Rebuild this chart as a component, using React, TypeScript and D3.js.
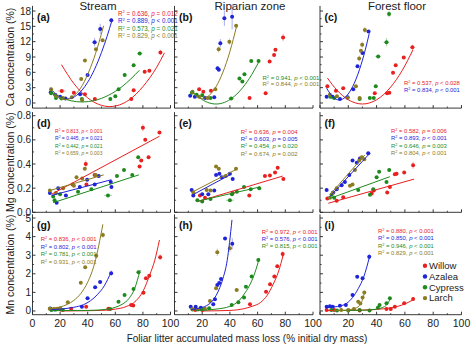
import React from "react";
import * as d3 from "d3";

// ---- data ----
const species = ["Willow", "Azalea", "Cypress", "Larch"];
const colors = ["#e8201f", "#1f24d8", "#1e8a1e", "#8c7c22"];

const colTitles = ["Stream", "Riparian zone", "Forest floor"];
const rowLabels = ["Ca concentration (%)", "Mg concentration (%)", "Mn concentration (%)"];
const letters = ["(a)", "(b)", "(c)", "(d)", "(e)", "(f)", "(g)", "(h)", "(i)"];

const xMajor = [0, 20, 40, 60, 80, 100];
const xMinor = [10, 30, 50, 70, 90];
const caTicks = [0, 3, 6, 9, 12, 15, 18];
const mgTicks = [0, 0.2, 0.4, 0.6, 0.8];
const mnTicks = [0, 1, 2, 3, 4, 5];

// points: [species, x, y, xerr, yerr]
type Pt = number[];
type Fit = [number, number[][]];
type Stat = [number, string, string];

const ptsA: Pt[] = [
  [0, 21.2, 2.35, 3, 0], [0, 30, 2.0], [0, 38, 1.7], [0, 45.2, 0.8], [0, 71.6, 0.8], [0, 73.3, 2.5], [0, 81.3, 6.1], [0, 84.7, 6.3], [0, 92.7, 9.9, 0, 0.5],
  [1, 13.2, 2.1], [1, 16.4, 1.6], [1, 20, 1.2], [1, 23.9, 0.9], [1, 34.5, 1.7, 2, 0], [1, 39.9, 5.5], [1, 45, 11.9, 2, 0.8], [1, 49.1, 14.5, 1, 1], [1, 57.1, 16.2, 0, 0.4],
  [2, 13.5, 1.9], [2, 17, 1.0], [2, 21, 0.9], [2, 35.8, 0.8], [2, 56.4, 0.8], [2, 60, 1.3], [2, 62.4, 2.7], [2, 66.8, 5.5], [2, 73.3, 7.4], [2, 77.7, 9.7, 2, 0],
  [3, 13.5, 2.7], [3, 17, 1.4], [3, 22, 1.0], [3, 28.5, 1.1], [3, 35.3, 4.7], [3, 38, 8.3], [3, 46, 10.5], [3, 50.8, 12.3], [3, 36, 0.6],
];
const fitA: Fit[] = [
  [0, [[21, 7.5], [30, 3.8], [40, 1.0], [56, -0.7], [70, 0.6], [80, 3.2], [90, 7.0], [95.6, 9.8]]],
  [1, [[13, 2.9], [18, 1.5], [25, 0.8], [32, 1.5], [40, 4.06], [45, 6.6], [50, 9.9], [54, 13.0], [57.6, 16.2]]],
  [2, [[13, 2.1], [20, 1.12], [28, 0.43], [36, 0.2], [45, 0.49], [55, 1.5], [65, 3.23], [77.5, 6.4]]],
  [3, [[13, 3.0], [18, 1.4], [24, 0.7], [30, 1.4], [36, 3.4], [42, 6.9], [47, 10.8], [51.5, 15.1]]],
];
const statA: Stat[] = [[0, "0.636", "= 0.012"], [1, "0.889", "< 0.001"], [2, "0.573", "= 0.021"], [3, "0.829", "< 0.001"]];

const ptsB: Pt[] = [
  [0, 17.8, 2.7], [0, 20.8, 2.2], [0, 26.3, 2.4], [0, 54.2, 1.0], [0, 65.8, 1.9], [0, 68.7, 8.1], [0, 71.9, 9.4, 0, 0.4], [0, 72.9, 10.4], [0, 78.4, 12.8, 0, 0.7],
  [1, 11.3, 1.4], [1, 14.7, 1.2], [1, 22, 1.0], [1, 28.7, 1.1], [1, 31.1, 6.8], [1, 32, 6.5], [1, 33.1, 11.7, 0, 0.8], [1, 36, 16.6, 0, 1.5], [1, 41.6, 16.9, 0, 2.5],
  [2, 12.5, 2.0], [2, 16, 1.6], [2, 20, 1.5], [2, 26, 1.0], [2, 40.9, 0.9, 2, 0], [2, 46.9, 4.8], [2, 49, 4.2], [2, 50.5, 5.6], [2, 55.4, 8.2], [2, 60.7, 8.2],
  [3, 13, 2.2], [3, 17.8, 1.2], [3, 24, 1.0], [3, 29.5, 2.7], [3, 31.9, 10.5, 0, 0.6], [3, 39.6, 12.0, 0, 0.6], [3, 44.5, 15.1],
];
const fitB: Fit[] = [
  [2, [[12.6, 2.4], [18, 1.04], [24, 0.11], [30, -0.2], [36, 0.11], [42, 1.04], [48, 2.6], [54, 4.78], [61, 8.1]]],
  [3, [[12.6, 2.15], [16, 1.27], [20, 0.9], [25, 1.47], [30, 3.19], [35, 6.05], [40, 10.06], [44.8, 15.0]]],
];
const statB: Stat[] = [[2, "0.941", "< 0.001"], [3, "0.844", "< 0.001"]];

const ptsC: Pt[] = [
  [0, 5.2, 3.3], [0, 11.3, 2.4], [0, 16.4, 2.9], [0, 38.7, 1.9], [0, 47.4, 1.9], [0, 49, 2.0], [0, 51.6, 5.9], [0, 53.5, 7.4], [0, 59.2, 8.9], [0, 65.3, 10.9, 1.5, 0.5],
  [1, 4.7, 1.2], [1, 8.9, 1.2], [1, 14.1, 0.8], [1, 19.5, 1.1], [1, 23.5, 2.7], [1, 26.5, 7.2], [1, 30, 9.8], [1, 34.3, 14.0],
  [2, 7.3, 1.2], [2, 10, 1.0], [2, 28, 0.8], [2, 35.2, 1.0], [2, 38, 1.0], [2, 39.4, 3.3], [2, 41.1, 9.1, 2, 0], [2, 47, 11.9, 2, 0.8], [2, 48.8, 17.4, 0, 0.6],
  [3, 7, 1.6], [3, 12, 1.3], [3, 19.5, 1.0], [3, 28, 1.0], [3, 25.4, 3.3], [3, 27.7, 8.7, 0, 0.6], [3, 28.9, 10.2], [3, 29.8, 11.4, 0, 0.6], [3, 31.7, 14.3, 0, 0.6],
];
const fitC: Fit[] = [
  [0, [[5.2, 4.9], [12, 2.5], [20, 0.63], [30, -0.2], [40, 0.63], [50, 3.13], [58, 6.32], [65.7, 10.4]]],
  [1, [[4.7, 2.9], [9, 1.21], [13.6, 0.6], [18, 1.16], [23, 3.16], [28, 6.61], [32, 10.4], [34.8, 13.6]]],
];
const statC: Stat[] = [[0, "0.537", "< 0.028"], [1, "0.834", "< 0.001"]];

const ptsD: Pt[] = [
  [0, 80, 0.70, 0, 0.03], [0, 81.7, 0.60], [0, 84.1, 0.455], [0, 92, 0.66], [0, 77.6, 0.38], [0, 78.8, 0.43], [0, 38.6, 0.40, 0, 0.03], [0, 39.1, 0.23], [0, 29, 0.23], [0, 45, 0.31],
  [1, 12.6, 0.16], [1, 17.5, 0.08], [1, 18.6, 0.20], [1, 24.2, 0.14], [1, 34.3, 0.21], [1, 39.6, 0.27], [1, 48, 0.30], [1, 45.1, 0.23], [1, 57.2, 0.21], [1, 56.7, 0.25],
  [2, 15, 0.13], [2, 16, 0.10], [2, 20, 0.15], [2, 33, 0.17], [2, 42.7, 0.19], [2, 54.7, 0.14, 3, 0], [2, 61.2, 0.30], [2, 66.3, 0.35], [2, 72.3, 0.31], [2, 76.6, 0.455],
  [3, 12.6, 0.18], [3, 17, 0.16], [3, 22.2, 0.20], [3, 31.9, 0.29], [3, 36, 0.28], [3, 37.9, 0.36], [3, 45.8, 0.31], [3, 30, 0.22],
];
const fitD: Fit[] = [
  [0, [[13.9, 0.15], [92, 0.63]]],
  [1, [[13.9, 0.14], [57.2, 0.27]]],
  [2, [[15, 0.08], [77.1, 0.31]]],
  [3, [[13.9, 0.185], [51.6, 0.31]]],
];
const statD: Stat[] = [[0, "0.813", "< 0.001"], [1, "0.445", "= 0.021"], [2, "0.442", "= 0.021"], [3, "0.659", "= 0.003"]];

const ptsE: Pt[] = [
  [0, 18.4, 0.14], [0, 22, 0.12], [0, 42, 0.16], [0, 54, 0.14], [0, 65.3, 0.30], [0, 68.9, 0.305], [0, 72.6, 0.33], [0, 74.5, 0.37], [0, 78.6, 0.275],
  [1, 12.4, 0.185], [1, 13.6, 0.14], [1, 20, 0.15], [1, 24.4, 0.15], [1, 28.7, 0.18], [1, 30, 0.31], [1, 32.4, 0.32], [1, 34.1, 0.29], [1, 40, 0.32], [1, 42, 0.275],
  [2, 16.5, 0.10], [2, 20, 0.09], [2, 26, 0.11], [2, 40, 0.10, 3, 0], [2, 41.5, 0.15], [2, 45, 0.17], [2, 50.2, 0.21], [2, 55, 0.19], [2, 61.2, 0.20],
  [3, 13.6, 0.165], [3, 23.2, 0.185], [3, 26, 0.18], [3, 30, 0.38], [3, 32, 0.36], [3, 37, 0.30], [3, 44.4, 0.36],
];
const fitE: Fit[] = [
  [0, [[17.2, 0.09], [78.1, 0.30]]],
  [1, [[12.4, 0.14], [40, 0.31]]],
  [2, [[16, 0.09], [61.7, 0.21]]],
  [3, [[12.4, 0.165], [45.3, 0.36]]],
];
const statE: Stat[] = [[0, "0.636", "= 0.004"], [1, "0.603", "= 0.005"], [2, "0.454", "= 0.020"], [3, "0.674", "= 0.002"]];

const ptsF: Pt[] = [
  [0, 5.2, 0.115], [0, 11.8, 0.095], [0, 16.4, 0.125], [0, 36.5, 0.155], [0, 38, 0.18], [0, 47.5, 0.165], [0, 49.4, 0.21], [0, 52.9, 0.315], [0, 54.1, 0.32], [0, 59.5, 0.33], [0, 65.8, 0.39, 0, 0.03],
  [1, 4.7, 0.185], [1, 9.4, 0.165], [1, 11.8, 0.19], [1, 15.3, 0.225], [1, 17.6, 0.25], [1, 20.7, 0.31], [1, 23, 0.43], [1, 26, 0.41], [1, 28.2, 0.445], [1, 34.1, 0.49, 1.5, 0],
  [2, 8.2, 0.145], [2, 10, 0.12], [2, 27, 0.185], [2, 35.3, 0.145], [2, 37.6, 0.19], [2, 40, 0.29, 1.5, 0], [2, 41.8, 0.335], [2, 47, 0.25], [2, 48.9, 0.35],
  [3, 7, 0.12], [3, 9, 0.16], [3, 11.8, 0.20], [3, 21.2, 0.22], [3, 23, 0.23], [3, 24.7, 0.35], [3, 27.7, 0.43], [3, 29.5, 0.455], [3, 31.3, 0.44],
];
const fitF: Fit[] = [
  [0, [[5.9, 0.075], [66.5, 0.275]]],
  [1, [[7, 0.13], [35.3, 0.49]]],
  [2, [[7, 0.115], [49.4, 0.295]]],
  [3, [[7, 0.145], [31.7, 0.475]]],
];
const statF: Stat[] = [[0, "0.582", "= 0.006"], [1, "0.893", "< 0.001"], [2, "0.646", "= 0.003"], [3, "0.804", "< 0.001"]];

const ptsG: Pt[] = [
  [0, 20, 0.1], [0, 28, 0.12], [0, 38.9, 0.23], [0, 55, 0.12], [0, 71.5, 0.32], [0, 73, 0.3], [0, 80.4, 0.98], [0, 82.2, 1.76], [0, 84.6, 1.9], [0, 92.5, 2.89, 0, 0.15],
  [1, 12.8, 0.14], [1, 16, 0.08], [1, 20, 0.1], [1, 35.8, 0.23], [1, 39.9, 0.68, 1.5, 0], [1, 45.4, 1.27, 1.5, 0], [1, 49, 1.56, 1.5, 0], [1, 57, 2.03, 0, 0.15],
  [2, 13.7, 0.05], [2, 17, 0.08], [2, 22, 0.05], [2, 56.3, 0.1], [2, 62.3, 0.5], [2, 66.7, 0.86], [2, 73.2, 1.18], [2, 76.8, 2.08, 1.5, 0],
  [3, 12.5, 0.12], [3, 15.3, 0.1], [3, 18, 0.12], [3, 20, 0.15], [3, 25.6, 0.47], [3, 35, 1.52], [3, 38.2, 2.35], [3, 46.2, 2.97, 0, 0.15], [3, 51, 4.09, 0, 0.15],
];
const fitG: Fit[] = [
  [0, [[20, 0.0], [50, 0.03], [60, 0.1], [68, 0.24], [75, 0.55], [80, 1.05], [85, 1.95], [88.5, 2.7], [92, 3.82]]],
  [1, [[13, 0.07], [20, 0.1], [30, 0.2], [37, 0.34], [42, 0.55], [47, 0.88], [52, 1.35], [57, 2.1]]],
  [2, [[13, 0.02], [40, 0.03], [55, 0.1], [60, 0.2], [65, 0.36], [70, 0.68], [74, 1.2], [78, 2.2]]],
  [3, [[13, 0.1], [20, 0.21], [25, 0.35], [30, 0.57], [35, 0.94], [40, 1.55], [45, 2.56], [51, 4.66]]],
];
const statG: Stat[] = [[0, "0.836", "< 0.001"], [1, "0.802", "< 0.001"], [2, "0.781", "< 0.001"], [3, "0.931", "< 0.001"]];

const ptsH: Pt[] = [
  [0, 15, 0.05], [0, 20, 0.05], [0, 54.5, 0.36], [0, 66.1, 1.04], [0, 69, 1.44], [0, 72.1, 1.85], [0, 74.2, 2.4], [0, 78.1, 3.06, 0, 0.15],
  [1, 11.7, 0.23], [1, 15.3, 0.23], [1, 19, 0.18], [1, 28, 0.36], [1, 29.2, 0.63], [1, 30.9, 1.4], [1, 32.3, 1.5], [1, 33.6, 1.72], [1, 36.5, 3.9], [1, 41.7, 3.62, 0, 0.3],
  [2, 13, 0.08], [2, 20, 0.1], [2, 25, 0.15], [2, 41.3, 0.32], [2, 46.1, 0.47], [2, 50.2, 0.72], [2, 51.6, 1.31], [2, 55.7, 1.85], [2, 60.5, 2.74],
  [3, 13, 0.1], [3, 17, 0.08], [3, 22, 0.12], [3, 25.6, 0.54], [3, 30, 1.22], [3, 30.9, 3.16, 0, 0.2], [3, 40, 3.37, 0, 0.2], [3, 44.9, 1.13, 1.5, 0],
];
const fitH: Fit[] = [
  [0, [[20, 0.0], [40, 0.03], [50, 0.12], [56, 0.25], [62, 0.45], [67, 0.85], [71, 1.4], [75, 2.1], [78.6, 3.05]]],
  [1, [[12, 0.07], [18, 0.15], [23, 0.28], [28, 0.6], [32, 1.13], [35, 1.75], [38, 2.7], [41.5, 4.9]]],
  [2, [[15, 0.02], [30, 0.1], [40, 0.25], [47, 0.59], [51, 0.98], [55, 1.5], [58, 2.05], [61.2, 2.83]]],
];
const statH: Stat[] = [[0, "0.972", "< 0.001"], [1, "0.576", "< 0.001"], [2, "0.815", "< 0.001"]];

const ptsI: Pt[] = [
  [0, 4.7, 0.05], [0, 10, 0.05], [0, 28, 0.03], [0, 47, 0.1], [0, 50, 0.1], [0, 52.9, 0.23], [0, 59.5, 0.41], [0, 65.8, 0.65],
  [1, 4.7, 0.23], [1, 7, 0.25], [1, 9, 0.23], [1, 14.1, 0.28], [1, 18.3, 0.32], [1, 23, 0.86], [1, 26.3, 1.84], [1, 30.1, 1.76], [1, 34.8, 2.92, 0, 0.15],
  [2, 8, 0.05], [2, 12, 0.02], [2, 20, 0.03], [2, 28, 0.05], [2, 35, 0.02], [2, 40.9, 0.18], [2, 42.1, 0.32], [2, 47, 0.41], [2, 49.4, 0.68],
  [3, 15, 0.05], [3, 20, 0.05], [3, 24, 0.1], [3, 27, 0.5], [3, 28.5, 0.4], [3, 30.1, 0.72], [3, 31.3, 1.0],
];
const fitI: Fit[] = [
  [0, [[4.7, 0.02], [20, 0.03], [35, 0.06], [45, 0.12], [55, 0.25], [60, 0.38], [65.8, 0.6]]],
  [1, [[4.7, 0.2], [10, 0.22], [15, 0.28], [19, 0.42], [23, 0.72], [27, 1.2], [31, 1.85], [34.8, 2.86]]],
  [2, [[10, 0.02], [30, 0.04], [40, 0.1], [44, 0.18], [47, 0.32], [49.9, 0.68]]],
  [3, [[10, 0.02], [18, 0.04], [24, 0.12], [28, 0.3], [30, 0.6], [31.7, 1.08]]],
];
const statI: Stat[] = [[0, "0.880", "< 0.001"], [1, "0.850", "< 0.001"], [2, "0.946", "< 0.001"], [3, "0.829", "< 0.001"]];

// ---- layout ----
const W = 474;
const H = 351;
const FONT = "'Liberation Sans', Arial, sans-serif";

const cols = [
  { x0: 32.5, x1: 170.5 },
  { x0: 174.5, x1: 313 },
  { x0: 320, x1: 461.5 },
];
const rows = [
  { domain: [-1, 19], range: [108.1, 5.9], ticks: caTicks, minor: 1.5, fmt: d3.format("d") },
  { domain: [0, 0.83], range: [212.3, 112.1], ticks: mgTicks, minor: 0.1, fmt: d3.format(".1f") },
  { domain: [-0.2, 5.2], range: [314.7, 214.3], ticks: mnTicks, minor: 0.5, fmt: d3.format("d") },
];

const panelData = [
  { pts: ptsA, fit: fitA, stat: statA, sx: 85.5, sy: 7.4, fs: 6.3, lh: 7.6 },
  { pts: ptsB, fit: fitB, stat: statB, sx: 88, sy: 71.8, fs: 6, lh: 6.6 },
  { pts: ptsC, fit: fitC, stat: statC, sx: 84, sy: 76.8, fs: 5.9, lh: 7.2 },
  { pts: ptsD, fit: fitD, stat: statD, sx: 22.5, sy: 18.9, fs: 5, lh: 7.4 },
  { pts: ptsE, fit: fitE, stat: statE, sx: 66.2, sy: 19.6, fs: 6, lh: 7.3 },
  { pts: ptsF, fit: fitF, stat: statF, sx: 71, sy: 18.9, fs: 5.9, lh: 7.4 },
  { pts: ptsG, fit: fitG, stat: statG, sx: 8.2, sy: 25, fs: 5.9, lh: 7.4 },
  { pts: ptsH, fit: fitH, stat: statH, sx: 87.2, sy: 17.4, fs: 5.9, lh: 7.2 },
  { pts: ptsI, fit: fitI, stat: statI, sx: 58, sy: 16.7, fs: 5.9, lh: 7.3 },
];

function Panel({ r, c }: { r: number; c: number }) {
  const idx = r * 3 + c;
  const pd = panelData[idx];
  const row = rows[r];
  const col = cols[c];
  const x = d3.scaleLinear().domain([0, 100]).range([col.x0, col.x1]);
  const y = d3.scaleLinear().domain(row.domain).range(row.range);
  const yb = row.range[0];
  const yt = row.range[1];
  const line = d3
    .line<number[]>()
    .x((d) => x(d[0]))
    .y((d) => y(d[1]))
    .curve(d3.curveMonotoneX);

  const yMinor = d3.range(0, row.domain[1] + 1e-9, row.minor).filter((v) => !row.ticks.some((t) => Math.abs(t - v) < 1e-9));
  const xLabels = xMajor.filter((v) => (c === 0 ? true : v !== 0));

  return (
    <g>
      {/* left axis, ticks point inward */}
      <line x1={col.x0} x2={col.x0} y1={yb} y2={yt} stroke="#222" strokeWidth={0.9} />
      {row.ticks.map((t) => (
        <g key={"yt" + t}>
          <line x1={col.x0} x2={col.x0 + 3} y1={y(t)} y2={y(t)} stroke="#222" strokeWidth={0.9} />
          {c === 0 && (
            <text x={col.x0 - 1.5} y={y(t)} dy="0.35em" textAnchor="end" fontSize={10} fontFamily={FONT} fill="#222">
              {row.fmt(t)}
            </text>
          )}
        </g>
      ))}
      {yMinor.map((t) => (
        <line key={"ym" + t} x1={col.x0} x2={col.x0 + 1.6} y1={y(t)} y2={y(t)} stroke="#222" strokeWidth={0.8} />
      ))}
      {/* bottom axis */}
      <line x1={col.x0} x2={col.x1} y1={yb} y2={yb} stroke="#222" strokeWidth={0.9} />
      {xMajor.map((t) => (
        <line key={"xt" + t} x1={x(t)} x2={x(t)} y1={yb} y2={yb - 3} stroke="#222" strokeWidth={0.9} />
      ))}
      {xMinor.map((t) => (
        <line key={"xm" + t} x1={x(t)} x2={x(t)} y1={yb} y2={yb - 1.6} stroke="#222" strokeWidth={0.8} />
      ))}
      {r === 2 &&
        xLabels.map((t) => (
          <text key={"xl" + t} x={x(t)} y={yb + 12} textAnchor="middle" fontSize={10.5} fontFamily={FONT} fill="#222">
            {t}
          </text>
        ))}

      {/* error bars */}
      {pd.pts.map((p, i) => (
        <g key={"e" + i} stroke={colors[p[0]]} strokeOpacity={0.55} strokeWidth={0.7}>
          {p[3] ? <line x1={x(p[1] - p[3])} x2={x(p[1] + p[3])} y1={y(p[2])} y2={y(p[2])} /> : null}
          {p[4] ? <line x1={x(p[1])} x2={x(p[1])} y1={y(p[2] - p[4])} y2={y(p[2] + p[4])} /> : null}
        </g>
      ))}
      {/* points */}
      {pd.pts.map((p, i) => (
        <circle key={"p" + i} cx={x(p[1])} cy={y(p[2])} r={2} fill={colors[p[0]]} />
      ))}
      {/* fitted curves */}
      {pd.fit.map((f, i) => (
        <path key={"f" + i} d={line(f[1]) || ""} fill="none" stroke={colors[f[0]]} strokeWidth={1} />
      ))}

      {/* stats */}
      {pd.stat.map((s, i) => (
        <text
          key={"s" + i}
          x={col.x0 + pd.sx}
          y={yt + pd.sy + i * pd.lh}
          dy="0.35em"
          fontSize={pd.fs}
          fontFamily={FONT}
          fill={colors[s[0]]}
        >
          R
          <tspan dy={-pd.fs * 0.35} fontSize={pd.fs * 0.65}>2</tspan>
          <tspan dy={pd.fs * 0.35}>{" = " + s[1] + ", "}</tspan>
          <tspan fontStyle="italic">p</tspan>
          {" " + s[2]}
        </text>
      ))}

      {/* panel letter */}
      <text x={col.x0 + 4.5} y={yt + 15} fontSize={10.5} fontWeight="bold" fontFamily={FONT} fill="#111">
        {letters[idx]}
      </text>
    </g>
  );
}

export default function App() {
  return (
    <svg width={W} height={H} style={{ position: "absolute", left: 0, top: 0, background: "#fff" }}>
      <rect width={W} height={H} fill="#fff" />
      {colTitles.map((t, i) => (
        <text key={t} x={[98, 250, 397][i]} y={10} textAnchor="middle" fontSize={11.5} fontFamily={FONT} fill="#222">
          {t}
        </text>
      ))}
      {rowLabels.map((t, i) => (
        <text
          key={t}
          transform={`translate(13.5,${(rows[i].range[0] + rows[i].range[1]) / 2}) rotate(-90)`}
          textAnchor="middle"
          fontSize={10.5}
          fontFamily={FONT}
          fill="#222"
        >
          {t}
        </text>
      ))}
      {[0, 1, 2].map((r) => [0, 1, 2].map((c) => <Panel key={r + "-" + c} r={r} c={c} />))}
      {/* legend */}
      {species.map((s, i) => (
        <g key={s}>
          <circle cx={425} cy={265.7 + i * 10.8} r={2.2} fill={colors[i]} />
          <text x={429} y={265.7 + i * 10.8} dy="0.35em" fontSize={9.5} fontFamily={FONT} fill="#222">
            {s}
          </text>
        </g>
      ))}
      <text x={247} y={342} textAnchor="middle" fontSize={10} fontFamily={FONT} fill="#222">
        Foliar litter accumulated mass loss (% initial dry mass)
      </text>
    </svg>
  );
}
